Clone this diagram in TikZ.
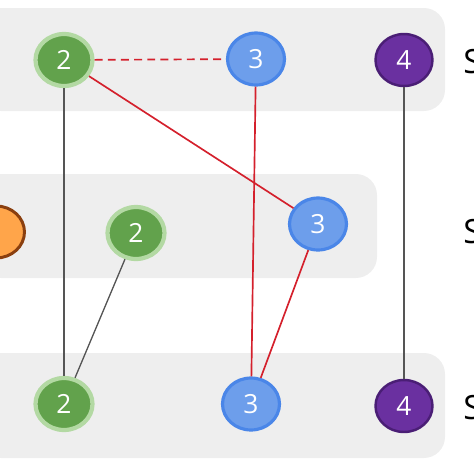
\documentclass[tikz,border=0pt]{standalone}
\usepackage{fontspec}
\setmainfont{Open Sans}
\usetikzlibrary{shapes.geometric}
\definecolor{bandgray}{HTML}{EEEEEE}
\definecolor{grfill}{HTML}{62A24C}
\definecolor{grline}{HTML}{B3D9A3}
\definecolor{blfill}{HTML}{6D9EEB}
\definecolor{blline}{HTML}{4A86E8}
\definecolor{pufill}{HTML}{6A30A0}
\definecolor{puline}{HTML}{4A1E75}
\definecolor{orfill}{HTML}{FFA54A}
\definecolor{orline}{HTML}{8A3F0F}
\definecolor{redline}{HTML}{D4202C}
\definecolor{grayline}{HTML}{555555}

\begin{document}
\begin{tikzpicture}[
  x=0.02cm,y=-0.02cm,
  every node/.style={font=\fontsize{15}{17}\selectfont},
  band/.style={fill=bandgray,rounded corners=12},
  vert/.style={ellipse,minimum width=1.14cm,minimum height=1.04cm,inner sep=0pt,text=white},
  green/.style={vert,fill=grfill,draw=grline,line width=2.4pt},
  blue/.style={vert,fill=blfill,draw=blline,line width=1.8pt},
  purple/.style={vert,fill=pufill,draw=puline,line width=1.4pt},
  orange/.style={vert,fill=orfill,draw=orline,line width=1.7pt},
  slabel/.style={anchor=west,inner sep=0pt,font=\fontsize{19}{22}\selectfont},
  same/.style={redline,line width=0.95pt},
  cross/.style={grayline,line width=0.75pt}
]
  \useasboundingbox (0,0) rectangle (474,474);
  \clip (0,0) rectangle (474,474);
  \fill[band] (-20,8) rectangle (445,111);
  \fill[band] (-20,174) rectangle (377,278);
  \fill[band] (-20,353) rectangle (445,458);

  % top row
  \node[green] (t2) at (64,60) {2};
  \node[blue] (t3) at (256,59) {3};
  \node[purple] (t4) at (404,60) {4};
  \node[slabel] (stop) at (463,62) {S};

  % middle row
  \node[orange] (m1) at (-4,232) {};
  \node[green] (m2) at (136,233) {2};
  \node[blue] (m3) at (318,224) {3};
  \node[slabel] (smid) at (463,232) {S};

  % bottom row
  \node[green] (b2) at (64,404) {2};
  \node[blue] (b3) at (251,404) {3};
  \node[purple] (b4) at (404,406) {4};
  \node[slabel] (sbot) at (463,408) {S};

  \draw[same,dash pattern=on 4.5pt off 3pt] (t2) -- (t3);
  \draw[same] (t2) -- (m3);
  \draw[same] (t3) -- (b3);
  \draw[same] (m3) -- (b3);
  \draw[cross] (t2) -- (b2);
  \draw[cross] (m2) -- (b2);
  \draw[cross] (t4) -- (b4);
\end{tikzpicture}
\end{document}
